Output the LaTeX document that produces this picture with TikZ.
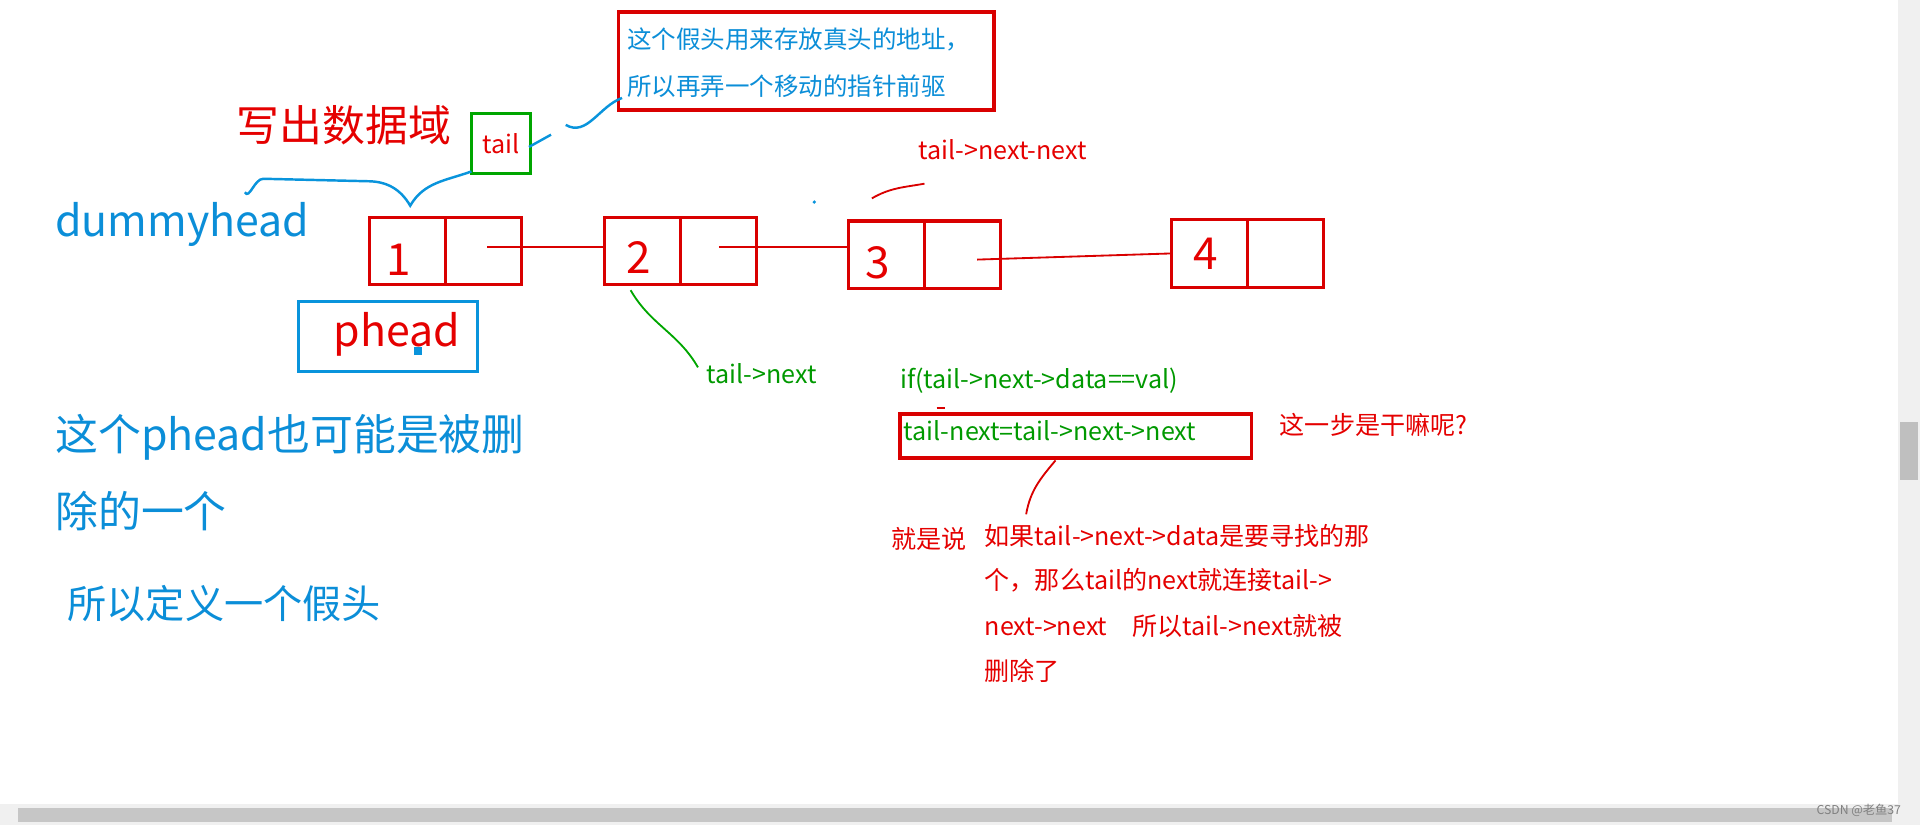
\documentclass[tikz,border=0pt]{standalone}
\usepackage{fontspec}
\setmainfont{Noto Sans CJK SC}
\begin{document}
\begin{tikzpicture}[x=1pt,y=-1pt,
  rb/.style={draw=red!85!black,line width=2.5pt},
  cell/.style={draw=red!85!black,line width=2.5pt,minimum width=62pt,minimum height=55pt,inner sep=0pt},
  red/.style={text=red!90!black},
  blu/.style={text=cyan!75!blue},
  grn/.style={text=green!60!black},
  t/.style={anchor=west,inner sep=0pt},
  sm/.style={font=\fontsize{20.5}{20.5}\selectfont},
  rl/.style={draw=red!85!black,line width=1.5pt}]
\fill[white] (0,0) rectangle (1568,674);
\useasboundingbox (0,0) rectangle (1568,674);
% scrollbars
\fill[gray!12] (1550,0) rectangle (1568,657);
\fill[gray!50] (1552,345) rectangle (1566,392);
\fill[gray!12] (0,657) rectangle (1568,674);
\fill[gray!45] (15,660) rectangle (1545,671);
\node[anchor=east,font=\fontsize{10}{10}\selectfont,text=gray] (csdn) at (1556,662) {CSDN @老鱼37};
% top note
\node[draw=red!85!black,line width=3pt,minimum width=307pt,minimum height=80pt] (note) at (658.5,50) {};
\node[t,blu,font=\fontsize{20}{20}\selectfont] (n1) at (512,32) {这个假头用来存放真头的地址，};
\node[t,blu,font=\fontsize{20}{20}\selectfont] (n2) at (512,70) {所以再弄一个移动的指针前驱};
\node[t,red,font=\fontsize{35}{35}\selectfont] (xc) at (193,102) {写出数据域};
\node[draw=green!65!black,line width=2.5pt,minimum width=48pt,minimum height=49pt,red,sm] (tail) at (409,117) {tail};
\draw[cyan!80!blue,line width=2pt] (200,157) to[out=-60,in=180] (215,146) -- (300,148) to[out=0,in=120] (335,168) to[out=60,in=200] (385,140);
\draw[cyan!80!blue,line width=2pt] (432,120) -- (450,110);
\draw[cyan!80!blue,line width=2pt] (462,102) to[out=-30,in=200] (508,80);
\node[t,blu,font=\fontsize{35}{35}\selectfont] (dh) at (45,183) {dummyhead};
% list
\node[cell] (c1) at (333,205) {}; \node[cell] (d1) at (395,205) {};
\node[red,font=\fontsize{36}{36}\selectfont] (l1) at (326,212) {1};
\node[cell] (c2) at (525,205) {}; \node[cell] (d2) at (587,205) {};
\node[red,font=\fontsize{36}{36}\selectfont] (l2) at (522,210) {2};
\node[cell] (c3) at (724,208) {}; \node[cell] (d3) at (786,208) {};
\node[red,font=\fontsize{36}{36}\selectfont] (l3) at (717,215) {3};
\node[cell] (c4) at (988,207) {}; \node[cell] (d4) at (1050,207) {};
\node[red,font=\fontsize{36}{36}\selectfont] (l4) at (985,207) {4};
\coordinate (s1) at (398,202); \coordinate (s2) at (587,202); \coordinate (s3) at (798,212);
\draw[rl] (s1) -- (c2.west |- s1);
\draw[rl] (s2) -- (c3.west |- s2);
\draw[rl] (s3) -- (c4.west);
\node[t,red,sm] (tnn) at (750,122) {tail->next-next};
\draw[rl] (712,162) to[out=30,in=190] (755,150);
\fill[cyan!80!blue] (665,165) circle (1.5);
% phead
\node[draw=cyan!80!blue,line width=2.5pt,minimum width=146pt,minimum height=57pt] (ph) at (317,275) {};
\node[red,font=\fontsize{35}{35}\selectfont] (pht) at (324,273) {phead};
\fill[cyan!80!blue] (338,283) rectangle (345,290);
% green
\draw[green!65!black,line width=1.5pt] (515,237) to[out=-60,in=120] (570,300);
\node[t,grn,sm] (tn) at (577,305) {tail->next};
\node[t,grn,sm] (if) at (735,311) {if(tail->next->data==val)};
\draw[rl] (765,333) -- (772,333);
\node[draw=red!85!black,line width=3pt,minimum width=287pt,minimum height=36pt] (box) at (878.5,356) {};
\node[t,grn,sm] (tt) at (738,352) {tail-next=tail->next->next};
\node[t,red,sm] (q) at (1045,347) {这一步是干嘛呢?};
\draw[rl] (862,376) to[out=230,in=80] (838,420);
\node[t,red,sm] (js) at (728,440) {就是说};
\node[t,red,sm] (e1) at (804,438) {如果tail->next->data是要寻找的那};
\node[t,red,sm] (e2) at (804,474) {个，那么tail的next就连接tail->};
\node[t,red,sm] (e3) at (804,511) {next->next\quad 所以tail->next就被};
\node[t,red,sm] (e4) at (804,548) {删除了};
% left
\node[t,blu,font=\fontsize{35}{35}\selectfont] (b1) at (45,357) {这个phead也可能是被删};
\node[t,blu,font=\fontsize{35}{35}\selectfont] (b2) at (45,417) {除的一个};
\node[t,blu,font=\fontsize{32}{32}\selectfont] (b3) at (55,493) {所以定义一个假头};
\end{tikzpicture}
\end{document}
